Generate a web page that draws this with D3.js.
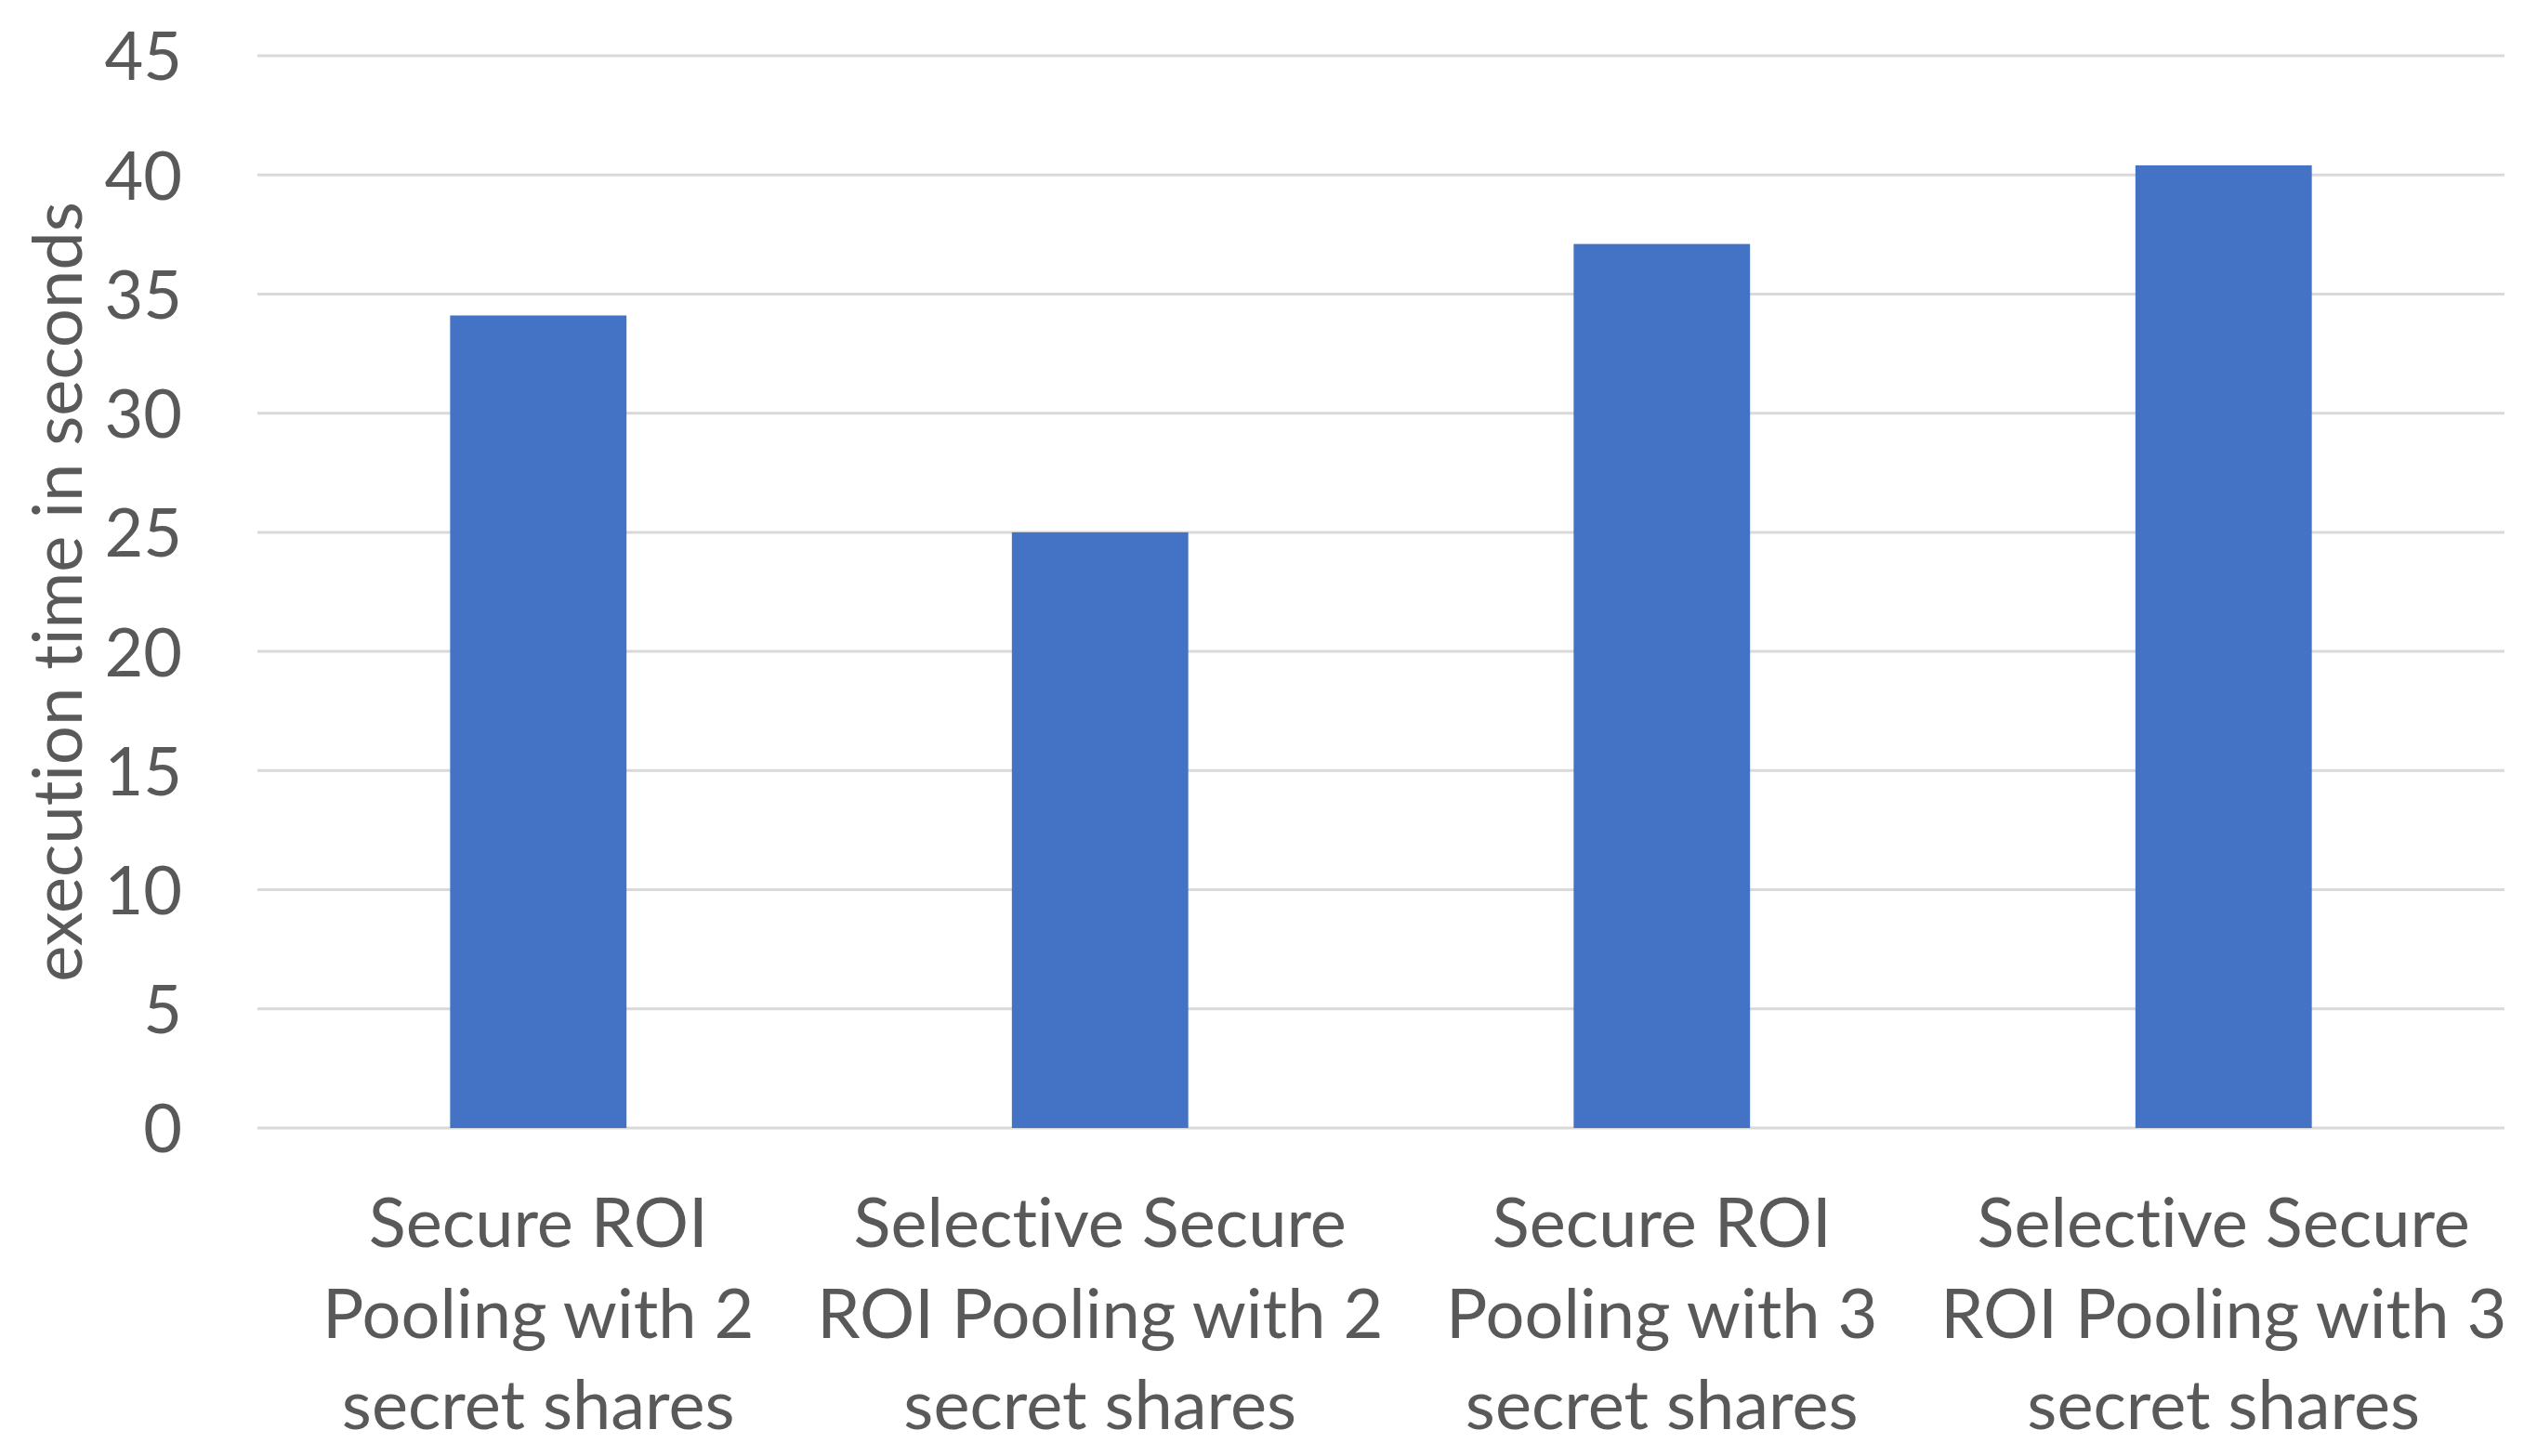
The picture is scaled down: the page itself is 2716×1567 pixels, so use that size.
<!DOCTYPE html>
<html>
<head>
<meta charset="utf-8">
<script src="https://cdn.jsdelivr.net/npm/d3@7"></script>
<style>
  html, body { margin: 0; padding: 0; background: #fff; }
  text { font-family: Lato, "Open Sans", sans-serif; fill: #595959; font-variant-ligatures: none; font-feature-settings: "liga" 0, "clig" 0; }
</style>
</head>
<body>
<svg id="chart" width="2716" height="1567"></svg>
<script>
const categories = [
  ["Secure ROI", "Pooling with 2", "secret shares"],
  ["Selective Secure", "ROI Pooling with 2", "secret shares"],
  ["Secure ROI", "Pooling with 3", "secret shares"],
  ["Selective Secure", "ROI Pooling with 3", "secret shares"]
];
const values = [34.1, 25.0, 37.1, 40.4];
const yTicks = [0, 5, 10, 15, 20, 25, 30, 35, 40, 45];
const yTitle = "execution time in seconds";

const svg = d3.select("#chart");
const margin = { left: 277, right: 21, top: 60, bottom: 353 };
const W = 2716, H = 1567;

const x = d3.scaleBand()
  .domain(d3.range(categories.length))
  .range([margin.left, W - margin.right])
  .paddingInner(0.686)
  .paddingOuter(0.343);

const y = d3.scaleLinear().domain([0, 45]).range([H - margin.bottom, margin.top]);

// gridlines
svg.append("g")
  .selectAll("line")
  .data(yTicks)
  .join("line")
  .attr("x1", margin.left)
  .attr("x2", W - margin.right)
  .attr("y1", d => y(d))
  .attr("y2", d => y(d))
  .attr("stroke", "#d9d9d9")
  .attr("stroke-width", 3);

// bars
svg.append("g")
  .selectAll("rect")
  .data(values)
  .join("rect")
  .attr("x", (d, i) => x(i))
  .attr("width", x.bandwidth())
  .attr("y", d => y(d))
  .attr("height", d => y(0) - y(d))
  .attr("fill", "#4472c4");

// y axis labels
const yAxis = d3.axisLeft(y).tickValues(yTicks).tickSize(0).tickPadding(0);
const gy = svg.append("g").attr("transform", "translate(196,0)").call(yAxis);
gy.select(".domain").remove();
gy.selectAll("text")
  .style("font-family", "Lato, 'Open Sans', sans-serif")
  .style("font-size", "72px")
  .attr("fill", "#595959")
  .attr("dy", "0.36em");

// x labels
const gx = svg.append("g");
categories.forEach((lines, i) => {
  const cx = x(i) + x.bandwidth() / 2;
  const t = gx.append("text")
    .attr("text-anchor", "middle")
    .style("font-size", "74px");
  lines.forEach((ln, j) => {
    t.append("tspan").attr("x", cx).attr("y", 1342 + j * 98).text(ln);
  });
});

// y title
svg.append("text")
  .attr("transform", `translate(88, ${(y(0) + y(45)) / 2}) rotate(-90)`)
  .attr("text-anchor", "middle")
  .style("font-size", "74px")
  .text(yTitle);
</script>
</body>
</html>
